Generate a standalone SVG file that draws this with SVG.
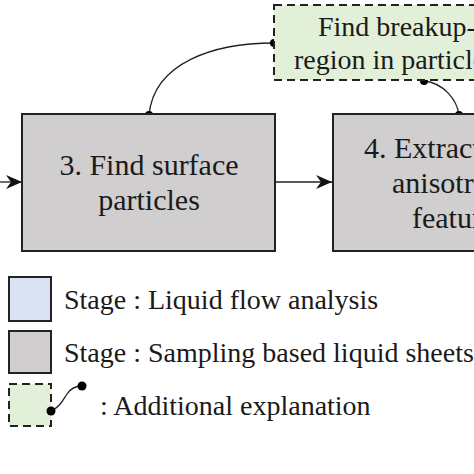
<svg xmlns="http://www.w3.org/2000/svg" width="474" height="474" viewBox="0 0 474 474">
<style>
.t{font-family:"Liberation Serif","Times New Roman",serif;fill:#1a1a1a}
.gray{fill:#d0cece;stroke:#222;stroke-width:2}
.blue{fill:#dae3f3;stroke:#222;stroke-width:2}
.green{fill:#e2f0d9;stroke:#222;stroke-width:2;stroke-dasharray:8 5}
.ln{fill:none;stroke:#222;stroke-width:1.3}
.dot{fill:#000}
</style>
<defs>
<marker id="arr" markerWidth="18" markerHeight="14" refX="16" refY="7" orient="auto" markerUnits="userSpaceOnUse">
<path d="M0,0 L16,7 L0,14 L5,7 Z" fill="#111"/>
</marker>
</defs>
<rect width="474" height="474" fill="#fff"/>
<g id="connectors">
<line class="ln" x1="0" y1="182" x2="22" y2="182" marker-end="url(#arr)"/>
<line class="ln" x1="275" y1="182" x2="332" y2="182" marker-end="url(#arr)"/>
<path class="ln" d="M149,115 C154,62 215,43 274,43"/>
<circle class="dot" cx="149" cy="115" r="4"/>
<circle class="dot" cx="274" cy="43" r="4"/>
<path class="ln" d="M424,81 C444,83 457,100 459,115"/>
<circle class="dot" cx="424" cy="81" r="4"/>
<circle class="dot" cx="459" cy="115" r="4"/>
</g>
<g id="node-find-breakup">
<rect class="green" x="274" y="5" width="220" height="75"/>
<text class="t" font-size="28" x="318" y="36">Find breakup-</text>
<text class="t" font-size="28" x="294" y="69">region in particles</text>
</g>
<g id="node-3">
<rect class="gray" x="22" y="114" width="253" height="137"/>
<text class="t" font-size="30" x="149" y="175" text-anchor="middle">3. Find surface</text>
<text class="t" font-size="30" x="149" y="210" text-anchor="middle">particles</text>
</g>
<g id="node-4">
<rect class="gray" x="333" y="114" width="253" height="137"/>
<text class="t" font-size="30" x="364" y="158">4. Extract</text>
<text class="t" font-size="30" x="392" y="193">anisotropic</text>
<text class="t" font-size="30" x="412" y="228">features</text>
</g>
<g id="legend-blue">
<rect class="blue" x="9" y="277" width="42" height="44"/>
<text class="t" font-size="28" x="64" y="309">Stage : Liquid flow analysis</text>
</g>
<g id="legend-gray">
<rect class="gray" x="9" y="331" width="42" height="42"/>
<text class="t" font-size="28" x="64" y="362">Stage : Sampling based liquid sheets</text>
</g>
<g id="legend-green">
<rect class="green" x="9" y="384" width="42" height="42"/>
<path class="ln" d="M51,411 C60,407 63,400 67,394 C71,388 76,386 82,386"/>
<circle class="dot" cx="51" cy="411" r="4.5"/>
<circle class="dot" cx="82" cy="386" r="4.5"/>
<text class="t" font-size="28" x="100" y="415">: Additional explanation</text>
</g>
</svg>
